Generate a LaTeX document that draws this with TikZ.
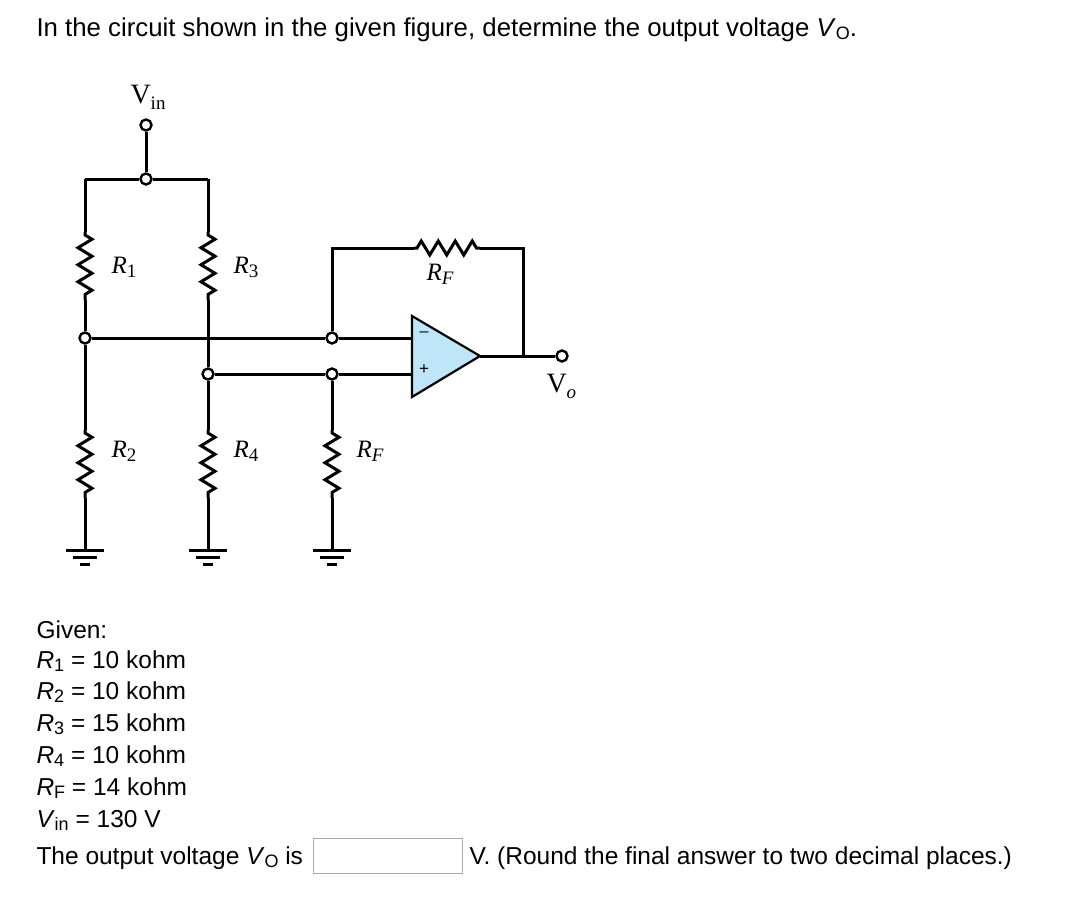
\documentclass[tikz,border=0pt]{standalone}
\usepackage{fontspec}
\setmainfont{Liberation Sans}
\newfontfamily\ser{Liberation Serif}
\usetikzlibrary{decorations.pathmorphing}
\newcommand{\rlab}[1]{{\ser\fontsize{25}{25}\selectfont\textit{R}\raisebox{-4pt}{\fontsize{19}{19}\selectfont #1}}}
\begin{document}
\begin{tikzpicture}[x=1pt,y=-1pt,line width=3pt,
  term/.style={circle,draw,fill=white,inner sep=0pt,minimum size=11pt,line width=2.4pt},
  res/.style={decorate,decoration={zigzag,segment length=17pt,amplitude=7pt,pre length=3pt,post length=3pt}},
  txt/.style={anchor=base west,inner sep=0pt,font=\fontsize{24.5}{24.5}\selectfont}]
\useasboundingbox (0,0) rectangle (1073,913);
\fill[white] (0,0) rectangle (1073,913);
% question
\node[txt,font=\fontsize{25.8}{25.8}\selectfont] (q) at (35,36) {In the circuit shown in the given figure, determine the output voltage \textit{V}\raisebox{-3pt}{\fontsize{18}{18}\selectfont O}.};
% terminals
\node[term] (vin) at (146,125) {};
\node[anchor=base,inner sep=0pt] (vinl) at (148,103) {\ser\fontsize{28}{28}\selectfont V\raisebox{-6pt}{\fontsize{19}{19}\selectfont in}};
\node[term] (top) at (146,179) {};
\coordinate (tl) at (85,179); \coordinate (tr) at (208,179);
\coordinate (r1a) at (85,232); \coordinate (r1b) at (85,300);
\coordinate (r3a) at (208,232); \coordinate (r3b) at (208,300);
\node[term] (n1) at (85,338) {};
\node[term] (n2) at (208,374) {};
\node[term] (n3) at (332,338) {};
\node[term] (n4) at (332,374) {};
\coordinate (r2a) at (85,430); \coordinate (r2b) at (85,498);
\coordinate (r4a) at (208,430); \coordinate (r4b) at (208,498);
\coordinate (r5a) at (332,430); \coordinate (r5b) at (332,498);
\coordinate (g1) at (85,550); \coordinate (g2) at (208,550); \coordinate (g3) at (332,550);
% opamp
\coordinate (oa) at (412,316); \coordinate (ob) at (412,397); \coordinate (oc) at (480,356);
\coordinate (im) at (412,338); \coordinate (ip) at (412,374);
\coordinate (fb1) at (332,248); \coordinate (fb2) at (523,248); \coordinate (fb3) at (523,356);
\coordinate (rfa) at (414,248); \coordinate (rfb) at (480,248);
\node[term] (vo) at (562,356) {};
% wires
\draw (vin) -- (top);
\draw (tl) -- (top) -- (tr);
\draw (tl) -- (r1a); \draw[res] (r1a) -- (r1b); \draw (r1b) -- (n1);
\draw (tr) -- (r3a); \draw[res] (r3a) -- (r3b); \draw (r3b) -- (n2);
\draw (n1) -- (n3) -- (im);
\draw (n2) -- (n4) -- (ip);
\draw (n1) -- (r2a); \draw[res] (r2a) -- (r2b); \draw (r2b) -- (g1);
\draw (n2) -- (r4a); \draw[res] (r4a) -- (r4b); \draw (r4b) -- (g2);
\draw (n4) -- (r5a); \draw[res] (r5a) -- (r5b); \draw (r5b) -- (g3);
\draw (n3) -- (fb1) -- (rfa); \draw[res] (rfa) -- (rfb); \draw (rfb) -- (fb2) -- (fb3);
\draw (oc) -- (vo);
\draw[fill={rgb,255:red,190;green,230;blue,248},line width=2.2pt] (oa) -- (oc) -- (ob) -- cycle;
\node[font=\fontsize{16}{16}\selectfont] (mi) at (424,334) {--};
\node[font=\fontsize{17}{17}\selectfont] (pl) at (424,370) {+};
\foreach \g in {g1,g2,g3}{
  \draw ([xshift=-19pt]\g) -- ([xshift=19pt]\g);
  \draw ([xshift=-12pt,yshift=-7pt]\g) -- ([xshift=12pt,yshift=-7pt]\g);
  \draw ([xshift=-5pt,yshift=-14pt]\g) -- ([xshift=5pt,yshift=-14pt]\g);
}
% labels
\node[anchor=base west,inner sep=0pt] (l1) at (110,273) {\rlab{1}};
\node[anchor=base west,inner sep=0pt] (l3) at (232,273) {\rlab{3}};
\node[anchor=base west,inner sep=0pt] (l2) at (110,457) {\rlab{2}};
\node[anchor=base west,inner sep=0pt] (l4) at (232,457) {\rlab{4}};
\node[anchor=base west,inner sep=0pt] (l5) at (355,457) {\rlab{\textit{F}}};
\node[anchor=base west,inner sep=0pt] (l6) at (425,280) {\rlab{\textit{F}}};
\node[anchor=base west,inner sep=0pt] (vol) at (545,392) {\ser\fontsize{28}{28}\selectfont V\raisebox{-6pt}{\fontsize{19}{19}\selectfont\textit{o}}};
% given
\newcommand{\sub}[1]{\raisebox{-3.5pt}{\fontsize{18}{18}\selectfont #1}}
\node[txt] (t0) at (35,638) {Given:};
\node[txt] (t1) at (35,668) {\textit{R}\sub{1} = 10 kohm};
\node[txt] (t2) at (35,699) {\textit{R}\sub{2} = 10 kohm};
\node[txt] (t3) at (35,731) {\textit{R}\sub{3} = 15 kohm};
\node[txt] (t4) at (35,763) {\textit{R}\sub{4} = 10 kohm};
\node[txt] (t5) at (35,795) {\textit{R}\sub{F} = 14 kohm};
\node[txt] (t6) at (35,827) {\textit{V}\sub{in} = 130 V};
\node[txt] (t7) at (35,864) {The output voltage \textit{V}\sub{O} is};
\node[draw={rgb,255:red,170;green,170;blue,170},line width=1pt,minimum width=149pt,minimum height=35pt,inner sep=0pt] (box) at (387.5,855.5) {};
\node[txt] (t8) at (468,864) {V. (Round the final answer to two decimal places.)};
\end{tikzpicture}
\end{document}
